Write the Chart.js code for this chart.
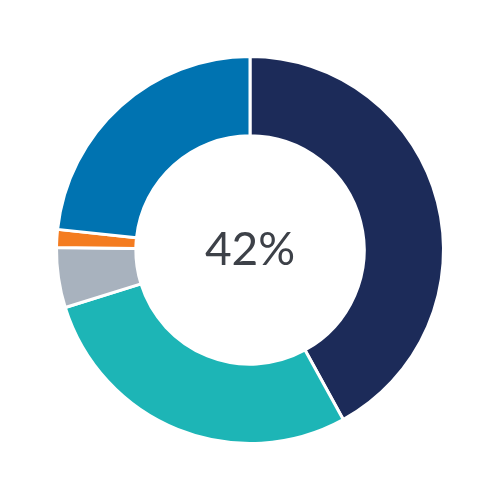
<!DOCTYPE html>
<html lang="en">
<head>
    <meta charset="UTF-8">
    <title>Doughnut</title>
    <script src="https://cdn.jsdelivr.net/npm/chart.js"></script>
    <style>
        html, body { margin: 0; padding: 0; background: #fff; }
        #wrap { width: 500px; height: 500px; }
    </style>
</head>
<body>
    <div id="wrap"><canvas id="donut"></canvas></div>

    <script>
        // segment data, clockwise from the top
        const labels = ['Segment A', 'Segment B', 'Segment C', 'Segment D', 'Segment E'];
        const values = [42, 28.2, 5, 1.5, 23.3];
        const colors = ['#1c2b59', '#1db5b6', '#a8b2be', '#f47c20', '#0073b1'];
        const centerLabel = '42%';

        // draws the label in the hole
        const centerText = {
            id: 'centerText',
            afterDraw(chart) {
                const ctx = chart.ctx;
                const meta = chart.getDatasetMeta(0).data[0];
                ctx.save();
                ctx.font = '400 46px Lato, "Open Sans", sans-serif';
                ctx.fillStyle = '#3d4148';
                ctx.textAlign = 'center';
                ctx.textBaseline = 'middle';
                ctx.fillText(centerLabel, meta.x, meta.y);
                ctx.restore();
            }
        };

        new Chart(document.getElementById('donut'), {
            type: 'doughnut',
            data: {
                labels: labels,
                datasets: [{
                    data: values,
                    backgroundColor: colors,
                    borderColor: '#ffffff',
                    borderWidth: 3
                }]
            },
            options: {
                responsive: true,
                maintainAspectRatio: false,
                animation: false,
                cutout: '59%',
                layout: { padding: 55 },
                plugins: {
                    legend: { display: false },
                    tooltip: { enabled: false }
                }
            },
            plugins: [centerText]
        });
    </script>
</body>
</html>
